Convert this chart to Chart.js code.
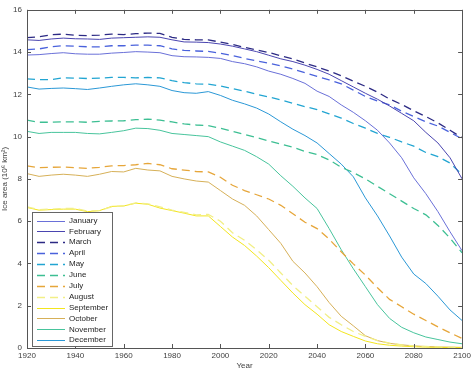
<!DOCTYPE html>
<html>
<head>
<meta charset="utf-8">
<script src="https://cdn.jsdelivr.net/npm/chart.js@4"></script>
<style>
  html, body { margin: 0; padding: 0; background: #fff; }
  #wrap { width: 474px; height: 371px; }
</style>
</head>
<body>
<div id="wrap"><canvas id="c" width="474" height="371"></canvas></div>
<script>
const years = [];
for (let y = 1920; y <= 2100; y += 5) years.push(y);

const monthNames = ['January','February','March','April','May','June','July','August','September','October','November','December'];

const jan = [13.86,13.88,13.93,13.97,13.92,13.90,13.90,13.95,13.98,14.02,14.00,13.97,13.83,13.78,13.77,13.75,13.70,13.55,13.45,13.30,13.10,12.95,12.75,12.52,12.15,11.90,11.50,11.15,10.75,10.30,9.70,9.00,8.05,7.30,6.45,5.50,4.60];
const feb = [14.58,14.55,14.62,14.66,14.63,14.62,14.60,14.66,14.68,14.70,14.72,14.70,14.58,14.48,14.47,14.45,14.38,14.28,14.15,14.02,13.85,13.68,13.55,13.38,13.18,12.95,12.65,12.35,12.05,11.77,11.45,11.10,10.75,10.20,9.70,9.00,8.00];
const mar = [14.68,14.72,14.82,14.85,14.80,14.78,14.80,14.85,14.83,14.87,14.90,14.88,14.70,14.60,14.58,14.58,14.47,14.36,14.22,14.10,13.98,13.82,13.68,13.48,13.30,13.10,12.88,12.62,12.38,12.10,11.78,11.52,11.22,10.95,10.65,10.30,9.95];
const apr = [14.12,14.15,14.25,14.30,14.28,14.25,14.25,14.30,14.30,14.33,14.33,14.30,14.15,14.08,14.05,14.03,13.95,13.83,13.70,13.58,13.48,13.35,13.20,13.02,12.85,12.68,12.50,12.20,11.90,11.68,11.50,11.20,10.95,10.70,10.50,10.20,9.90];
const may = [12.73,12.70,12.70,12.78,12.77,12.75,12.77,12.80,12.80,12.78,12.80,12.78,12.65,12.55,12.50,12.48,12.40,12.27,12.15,12.00,11.88,11.73,11.58,11.42,11.28,11.08,10.88,10.62,10.40,10.15,9.97,9.75,9.55,9.25,9.05,8.75,8.20];
const jun = [10.78,10.68,10.68,10.70,10.70,10.68,10.72,10.74,10.75,10.80,10.83,10.78,10.70,10.60,10.55,10.52,10.40,10.25,10.10,9.95,9.80,9.65,9.50,9.30,9.15,8.90,8.55,8.30,8.00,7.65,7.30,6.95,6.60,6.30,5.80,5.20,4.50];
const jul = [8.62,8.53,8.55,8.56,8.53,8.50,8.55,8.62,8.63,8.67,8.73,8.67,8.48,8.42,8.35,8.33,8.08,7.70,7.45,7.25,7.05,6.75,6.35,5.95,5.65,5.15,4.55,3.98,3.45,2.85,2.30,1.95,1.60,1.30,1.00,0.72,0.45];
const aug = [6.68,6.55,6.57,6.60,6.60,6.48,6.50,6.68,6.72,6.87,6.82,6.68,6.52,6.42,6.30,6.32,6.00,5.45,5.10,4.65,4.15,3.55,2.95,2.45,1.95,1.45,1.10,0.78,0.55,0.35,0.23,0.15,0.10,0.07,0.05,0.04,0.03];
const sep = [6.65,6.52,6.55,6.57,6.57,6.45,6.50,6.70,6.72,6.85,6.80,6.62,6.50,6.38,6.25,6.25,5.75,5.25,4.85,4.35,3.80,3.20,2.60,2.05,1.60,1.10,0.78,0.55,0.33,0.20,0.13,0.09,0.06,0.04,0.03,0.02,0.02];
const oct = [8.25,8.12,8.18,8.22,8.18,8.12,8.22,8.35,8.33,8.50,8.42,8.38,8.12,8.00,7.90,7.85,7.45,7.05,6.75,6.25,5.60,4.95,4.10,3.55,2.90,2.15,1.50,1.05,0.58,0.35,0.22,0.15,0.10,0.07,0.05,0.04,0.03];
const nov = [10.25,10.15,10.20,10.20,10.20,10.15,10.13,10.20,10.28,10.40,10.38,10.30,10.15,10.10,10.05,10.00,9.75,9.55,9.35,9.05,8.70,8.15,7.65,7.10,6.60,5.65,4.65,3.75,2.90,2.05,1.40,0.98,0.72,0.52,0.40,0.28,0.20];
const dec = [12.35,12.25,12.28,12.30,12.27,12.23,12.30,12.38,12.45,12.50,12.45,12.38,12.18,12.08,12.05,12.13,11.95,11.72,11.55,11.35,11.07,10.70,10.35,10.05,9.70,9.20,8.70,8.10,7.10,6.25,5.30,4.30,3.50,3.05,2.45,1.80,1.30];

const seriesValues = [jan, feb, mar, apr, may, jun, jul, aug, sep, oct, nov, dec];
const seriesColors = ['#6a70d8','#4a45b0','#2c2a84','#4a62dc','#22a5d2','#3dbf93','#e6a63a','#f2ef86','#f3e51e','#d6b058','#48c49c','#2b98d6'];
const seriesDashed = [false,false,true,true,true,true,true,true,false,false,false,false];

const xTicks = [1920,1940,1960,1980,2000,2020,2040,2060,2080,2100];
const yTicks = [0,2,4,6,8,10,12,14,16];

const FONT = 'Liberation Sans, Arial, Helvetica, sans-serif';
const DASH = [8, 5];

const datasets = seriesValues.map((vals, i) => ({
  label: monthNames[i],
  data: vals.map((v, j) => ({x: years[j], y: v})),
  borderColor: seriesColors[i],
  backgroundColor: seriesColors[i],
  borderWidth: seriesDashed[i] ? 1.3 : 1,
  borderDash: seriesDashed[i] ? DASH : [],
  pointRadius: 0,
  tension: 0,
  fill: false
}));

const framePlugin = {
  id: 'frame',
  afterDatasetsDraw(chart) {
    const {ctx, chartArea: a, scales: {x, y}} = chart;
    ctx.save();
    ctx.strokeStyle = '#555';
    ctx.lineWidth = 1;
    ctx.setLineDash([]);
    ctx.strokeRect(Math.round(a.left) + 0.5, Math.round(a.top) + 0.5, Math.round(a.right - a.left), Math.round(a.bottom - a.top));
    const tl = 4;
    ctx.beginPath();
    xTicks.forEach(t => {
      const px = Math.round(x.getPixelForValue(t)) + 0.5;
      ctx.moveTo(px, a.bottom); ctx.lineTo(px, a.bottom - tl);
      ctx.moveTo(px, a.top); ctx.lineTo(px, a.top + tl);
    });
    yTicks.forEach(t => {
      const py = Math.round(y.getPixelForValue(t)) + 0.5;
      ctx.moveTo(a.left, py); ctx.lineTo(a.left + tl, py);
      ctx.moveTo(a.right, py); ctx.lineTo(a.right - tl, py);
    });
    ctx.stroke();

    // legend
    const L = 32.5, T = 212.5, R = 112.5, B = 346.5;
    ctx.fillStyle = '#fff';
    ctx.fillRect(L, T, R - L, B - T);
    ctx.strokeStyle = '#666';
    ctx.strokeRect(L, T, R - L, B - T);
    ctx.font = '8px ' + FONT;
    ctx.textBaseline = 'middle';
    ctx.textAlign = 'left';
    chart.data.datasets.forEach((ds, i) => {
      const cy = 220.5 + i * 10.88;
      ctx.strokeStyle = ds.borderColor;
      ctx.lineWidth = ds.borderWidth;
      ctx.setLineDash(ds.borderDash);
      ctx.beginPath();
      ctx.moveTo(37, Math.round(cy) + 0.5);
      ctx.lineTo(65, Math.round(cy) + 0.5);
      ctx.stroke();
      ctx.setLineDash([]);
      ctx.fillStyle = '#262626';
      ctx.fillText(ds.label, 69, cy);
    });
    ctx.restore();
  }
};

new Chart(document.getElementById('c'), {
  type: 'line',
  data: { datasets },
  options: {
    responsive: false,
    animation: false,
    devicePixelRatio: 1,
    layout: { padding: { top: 3, right: 9, left: 0, bottom: 0 } },
    plugins: { legend: { display: false }, tooltip: { enabled: false } },
    scales: {
      x: {
        type: 'linear', min: 1920, max: 2100,
        afterFit(s) { s.height = 23; },
        afterBuildTicks(s) { s.ticks = xTicks.map(v => ({value: v})); },
        grid: { display: false, drawTicks: false },
        border: { display: false },
        ticks: { padding: 3, color: '#404040', font: { family: FONT, size: 8 }, maxRotation: 0, autoSkip: false,
                 callback: v => String(v) },
        title: { display: true, text: 'Year', color: '#404040', font: { family: FONT, size: 8 }, padding: 0 }
      },
      y: {
        type: 'linear', min: 0, max: 16,
        afterFit(s) { s.width = 27; },
        afterBuildTicks(s) { s.ticks = yTicks.map(v => ({value: v})); },
        grid: { display: false, drawTicks: false },
        border: { display: false },
        ticks: { padding: 5, color: '#404040', font: { family: FONT, size: 8 }, callback: v => String(v) },
        title: { display: true, text: 'Ice area (10⁶ km²)', color: '#404040', font: { family: FONT, size: 8 }, padding: 0 }
      }
    }
  },
  plugins: [framePlugin]
});
</script>
</body>
</html>
